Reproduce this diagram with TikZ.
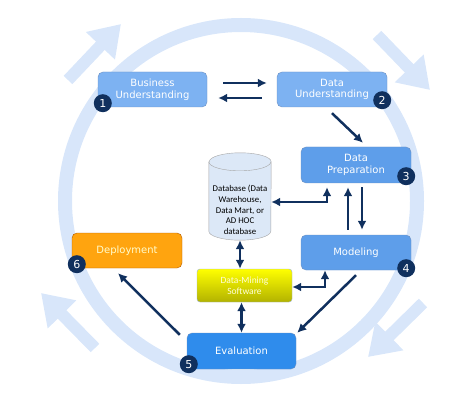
\documentclass[tikz,border=0pt]{standalone}
\usepackage{fontspec}
\setmainfont{DejaVu Sans}
\newfontfamily\calfont{Carlito}
\usetikzlibrary{arrows.meta}
\definecolor{ringblue}{HTML}{D8E6FA}
\definecolor{navy}{HTML}{10305E}
\definecolor{boxedge}{HTML}{6C90C2}
\definecolor{lightphase}{HTML}{7DB2F2}
\definecolor{midphase}{HTML}{5E9EEA}
\definecolor{evalblue}{HTML}{2F8CEC}
\definecolor{deployorange}{HTML}{FFA40F}
\definecolor{dbblue}{HTML}{DCE8F7}
\begin{document}
\begin{tikzpicture}[x=1pt,y=-1pt,
	phase/.style={draw=boxedge,rounded corners=5pt,text=white,align=center,minimum width=110pt,minimum height=35pt,inner sep=1pt,font=\fontsize{10}{11.5}\selectfont},
	badge/.style={circle,fill=navy,text=white,minimum size=18pt,inner sep=0pt,font=\fontsize{11}{11}\selectfont},
	flow/.style={draw=navy,line width=2.5pt,-{Latex[length=9pt,width=9pt]}},
	twoway/.style={flow,{Latex[length=9pt,width=9pt]}-{Latex[length=9pt,width=9pt]}},
	cycarrow/.style={draw=ringblue,line width=12pt,-{Triangle[length=30pt,width=38pt]}},
	capr/.style={x radius=31pt,y radius=9pt}]
	\useasboundingbox (0,0) rectangle (470,403);
	% the cycle
	\draw[ringblue,line width=14pt] (241,201) circle (176pt);
	\draw[cycarrow] (68,80) -- (121,24);
	\draw[cycarrow] (377,35) -- (430,90);
	\draw[cycarrow] (423,303) -- (368,357);
	\draw[cycarrow] (95,348) -- (41,293);
	% phases
	\node[phase,fill=lightphase,minimum width=109pt] (bu) at (152.5,89.5) {Business\\Understanding};
	\node[phase,fill=lightphase] (du) at (332,89.5) {Data\\Understanding};
	\node[phase,fill=midphase,minimum height=36pt] (dp) at (356,165) {Data\\Preparation};
	\node[phase,fill=midphase] (mo) at (356,252.5) {Modeling};
	\node[phase,fill=evalblue,minimum width=109pt,minimum height=36pt] (ev) at (241.5,351) {Evaluation};
	\node[phase,fill=deployorange,draw=orange!70!black,text=yellow!20] (de) at (127,250.5) {Deployment};
	\node[draw=boxedge!70,rounded corners=3pt,top color=yellow,bottom color=yellow!70!black,text=yellow!15,align=center,minimum width=95pt,minimum height=33pt,font=\calfont\fontsize{9.5}{11}\selectfont] (dm) at (244.5,285.5) {Data-Mining\\Software};
	% database drum
	\node[minimum width=62pt,minimum height=87pt,inner sep=0pt] (db) at (240,196.5) {};
	\draw[gray!70,fill=dbblue] ([yshift=-9pt]db.north west) -- ([yshift=9pt]db.south west)
		arc[start angle=180,end angle=360,capr] -- ([yshift=-9pt]db.north east)
		arc[start angle=0,end angle=180,capr] -- cycle;
	\draw[gray!70] ([yshift=-9pt]db.north west) arc[start angle=180,end angle=360,capr];
	\node[align=center,inner sep=0pt,font=\calfont\fontsize{8.8}{10.7}\selectfont] (dbtext) at (240,210) {Database (Data\\Warehouse,\\Data Mart, or\\AD HOC\\database};
	% numbers
	\node[badge] (n1) at ([xshift=5pt,yshift=4pt]bu.south west) {1};
	\node[badge] (n2) at ([xshift=-5pt,yshift=7pt]du.south east) {2};
	\node[badge] (n3) at ([xshift=-5pt,yshift=7pt]dp.south east) {3};
	\node[badge] (n4) at ([xshift=-5pt,yshift=2pt]mo.south east) {4};
	\node[badge] (n5) at ([xshift=2pt,yshift=5pt]ev.south west) {5};
	\node[badge] (n6) at ([xshift=5pt,yshift=4pt]de.south west) {6};
	% connectors
	\draw[flow] ([xshift=16pt,yshift=6.5pt]bu.east) -- ([xshift=-10pt,yshift=6.5pt]du.west);
	\draw[flow] ([xshift=-15pt,yshift=-8.5pt]du.west) -- ([xshift=11pt,yshift=-8.5pt]bu.east);
	\draw[flow] ([yshift=-6pt]du.south) -- ([xshift=7pt,yshift=4pt]dp.north);
	\draw[flow] ([xshift=-8pt,yshift=5pt]mo.north) -- ([xshift=-8pt,yshift=-4pt]dp.south);
	\draw[flow] ([xshift=6pt,yshift=-4pt]dp.south) -- ([xshift=6pt,yshift=5pt]mo.north);
	\draw[twoway] ([xshift=-29pt,yshift=-4pt]dp.south) |- ([yshift=-5.5pt]db.east);
	\draw[twoway] ([xshift=-31pt]mo.south) |- ([yshift=-1.5pt]dm.east);
	\draw[twoway] (db.south) -- (db.south |- dm.north);
	\draw[twoway] (ev.north |- dm.south) -- (ev.north);
	\draw[flow] ([yshift=-5pt]mo.south) -- ([xshift=1pt]ev.north east);
	\draw[flow] ([xshift=-7pt,yshift=-2pt]ev.north west) -- ([xshift=-9pt,yshift=-5pt]de.south);
\end{tikzpicture}
\end{document}
